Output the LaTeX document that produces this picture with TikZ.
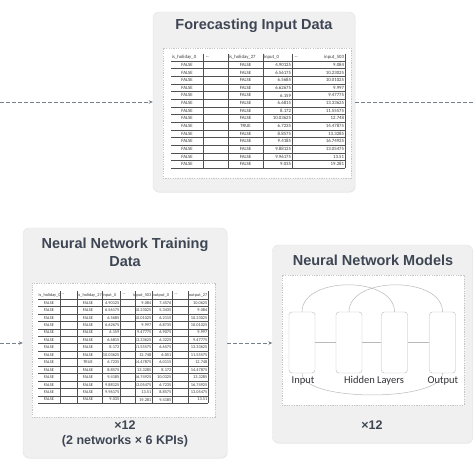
\documentclass[tikz,border=0pt]{standalone}
\usepackage{fontspec}
\setmainfont{Liberation Sans}
\newfontfamily\cellfam{Carlito}
\usetikzlibrary{arrows.meta,shadows}
\definecolor{boxfill}{RGB}{240,240,240}
\definecolor{boxedge}{RGB}{226,226,226}
\definecolor{titlec}{RGB}{62,70,84}
\definecolor{gridc}{RGB}{80,80,80}
\definecolor{cellc}{RGB}{60,60,60}
\definecolor{netc}{RGB}{185,185,185}
\definecolor{arrc}{RGB}{120,128,140}
\definecolor{labc}{RGB}{50,50,55}
\tikzset{
  panel/.style={draw=boxedge, fill=boxfill, rounded corners=6pt, inner sep=0,
    drop shadow={opacity=0.12, shadow xshift=0.6pt, shadow yshift=-0.8pt}},
  ttl/.style={font=\bfseries\fontsize{14.5}{18}\selectfont, text=titlec, align=center, inner sep=0},
  cnt/.style={font=\bfseries\fontsize{12.5}{15}\selectfont, text=titlec, align=center, inner sep=0},
  frm/.style={draw=gray!45, dash pattern=on 1.2pt off 1.2pt, fill=white, inner sep=0},
  cell/.style={font=\cellfam\fontsize{4.8}{5}\selectfont, text=cellc, inner sep=0.7pt},
  lcell/.style={font=\cellfam\fontsize{4.3}{5}\selectfont, text=cellc, inner sep=0.5pt},
  flow/.style={draw=arrc, dash pattern=on 3.5pt off 2.5pt, line width=0.6pt},
  flowhead/.style={-{Stealth[length=4pt,width=3.5pt]}},
  layer/.style={draw=netc, rounded corners=3pt, minimum width=26pt, minimum height=61pt, inner sep=0},
  netline/.style={draw=netc, line width=0.5pt},
  lab/.style={font=\cellfam\fontsize{10.5}{12}\selectfont, text=labc, inner sep=0},
  grid/.style={draw=gridc, line width=0.45pt}
}
\begin{document}
\begin{tikzpicture}[x=1pt,y=-1pt]
\useasboundingbox (0,0) rectangle (474,474);

% ---------------- panels ----------------
\node[panel, minimum width=202pt, minimum height=180pt] (fid) at (254,102) {};
\node[panel, minimum width=204pt, minimum height=230pt] (nnt) at (125,343) {};
\node[panel, minimum width=200pt, minimum height=198pt] (nnm) at (372.5,344) {};

\node[ttl] (fidt) at (254,26) {Forecasting Input Data};
\node[ttl] (nntt) at (125,252) {Neural Network Training\\Data};
\node[ttl] (nnmt) at (373,260) {Neural Network Models};

% inner frames
\node[frm, minimum width=188pt, minimum height=130pt] (fidf) at (257,113) {};
\node[frm, minimum width=183pt, minimum height=134pt] (nntf) at (123.5,350) {};
\node[frm, minimum width=182pt, minimum height=130pt] (nnmf) at (373,340) {};

% ---------------- top table ----------------
\foreach \i in {0,...,14} \draw[grid] (171,{61+\i*7.65}) -- (345,{61+\i*7.65});
\foreach \x in {203,228,263,292,345} \draw[grid] (\x,53.5) -- (\x,168.1);
\node[cell, anchor=west] (th1) at (171,57.5) {is\_holiday\_0};
\node[cell, anchor=west] (th2) at (205,57.5) {--};
\node[cell, anchor=west] (th3) at (228,57.5) {is\_holiday\_27};
\node[cell, anchor=west] (th4) at (263,57.5) {input\_0};
\node[cell, anchor=west] (th5) at (294,57.5) {--};
\node[cell, anchor=east] (th6) at (345,57.5) {input\_503};
\foreach \i in {1,...,14} {
  \node[cell] (tc1-\i) at (187,{61+(\i-0.5)*7.65}) {FALSE};
}
\foreach \v [count=\i] in {FALSE,FALSE,FALSE,FALSE,FALSE,FALSE,FALSE,FALSE,TRUE,FALSE,FALSE,FALSE,FALSE,FALSE}
  \node[cell] (tc3-\i) at (245.5,{61+(\i-0.5)*7.65}) {\v};
\foreach \v [count=\i] in {4.90125,6.56175,6.5685,6.62675,6.159,6.6815,8.172,10.03625,6.7235,8.8575,9.4185,9.88125,9.96175,9.035}
  \node[cell, anchor=east] (tc4-\i) at (292,{61+(\i-0.5)*7.65}) {\v};
\foreach \v [count=\i] in {9.084,10.23025,10.01025,9.997,9.47775,13.33625,11.55575,12.748,14.47875,13.3285,16.74925,13.05475,13.51,19.281}
  \node[cell, anchor=east] (tc6-\i) at (345,{61+(\i-0.5)*7.65}) {\v};

% ---------------- left table ----------------
\foreach \i in {0,...,14} \draw[grid] (38,{299+\i*7.45}) -- (208,{299+\i*7.45});
\foreach \x in {60,77,102,120,135,152,172,188,208} \draw[grid] (\x,291) -- (\x,403.3);
\node[lcell, anchor=west] (lh1) at (38,295) {is\_holiday\_0};
\node[lcell, anchor=west] (lh2) at (61,295) {--};
\node[lcell, anchor=west] (lh3) at (77,295) {is\_holiday\_27};
\node[lcell, anchor=west] (lh4) at (102,295) {input\_0};
\node[lcell, anchor=west] (lh5) at (122,295) {--};
\node[lcell, anchor=east] (lh6) at (152,295) {input\_503};
\node[lcell, anchor=west] (lh7) at (152,295) {output\_0};
\node[lcell, anchor=west] (lh8) at (174,295) {--};
\node[lcell, anchor=east] (lh9) at (208,295) {output\_27};
\foreach \i in {1,...,14}
  \node[lcell] (lc1-\i) at (49,{299+(\i-0.5)*7.45}) {FALSE};
\foreach \v [count=\i] in {FALSE,FALSE,FALSE,FALSE,FALSE,FALSE,FALSE,FALSE,TRUE,FALSE,FALSE,FALSE,FALSE,FALSE}
  \node[lcell] (lc3-\i) at (88,{299+(\i-0.5)*7.45}) {\v};
\foreach \v [count=\i] in {4.90125,6.56175,6.5685,6.62675,6.159,6.6815,8.172,10.03625,6.7235,8.8575,9.4185,9.88125,9.96175,9.035}
  \node[lcell, anchor=east] (lc4-\i) at (120,{299+(\i-0.5)*7.45}) {\v};
\foreach \v [count=\i] in {9.084,10.23025,10.01025,9.997,9.47775,13.33625,11.55575,12.748,14.47875,13.3285,16.74925,13.05475,13.51,19.281}
  \node[lcell, anchor=east] (lc6-\i) at (152,{299+(\i-0.5)*7.45}) {\v};
\foreach \v [count=\i] in {7.4576,5.3435,6.2115,6.8735,6.9075,6.3225,6.6575,6.051,6.0115,8.172,10.0325,6.7235,8.8575,9.4185}
  \node[lcell, anchor=east] (lc7-\i) at (172,{299+(\i-0.5)*7.45}) {\v};
\foreach \v [count=\i] in {10.0625,9.084,10.23025,10.01025,9.997,9.47775,13.33625,11.55575,12.748,14.47875,13.3285,16.74925,13.05475,13.51}
  \node[lcell, anchor=east] (lc9-\i) at (208,{299+(\i-0.5)*7.45}) {\v};

\node[cnt] (nntc) at (125,434) {×12\\(2 networks × 6 KPIs)};

% ---------------- network sketch ----------------
\node[layer] (L1) at (302,342.5) {};
\node[layer] (L2) at (349,342.5) {};
\node[layer] (L3) at (394.5,342.5) {};
\node[layer] (L4) at (442.5,342.5) {};
\draw[netline] (L1.east) -- (L2.west);
\draw[netline] (L2.east) -- (L3.west);
\draw[netline] (L3.east) -- (L4.west);
\draw[netline] (L1.north) .. controls +(0,-36) and +(0,-36) .. (L3.north);
\draw[netline] (L2.north) .. controls +(0,-36) and +(0,-36) .. (L4.north);
\draw[netline] (L1.south) .. controls +(0,29) and +(0,29) .. (L4.south);
\node[lab] (lin) at (303,381) {Input};
\node[lab] (lhid) at (374,381) {Hidden Layers};
\node[lab] (lout) at (443,381) {Output};
\node[cnt] (nnmc) at (372,425) {×12};

% ---------------- flow connectors ----------------
\coordinate (inA) at (0,102);
\coordinate (outA) at (474,102);
\coordinate (inB) at (0,343);
\draw[flow, flowhead] (inA) -- (fid.west);
\draw[flow] (fid.east) -- (outA);
\draw[flow, flowhead] (inB) -- (nnt.west);
\draw[flow, flowhead] (nnt.east) -- (nnt.east -| nnm.west);
\end{tikzpicture}
\end{document}
